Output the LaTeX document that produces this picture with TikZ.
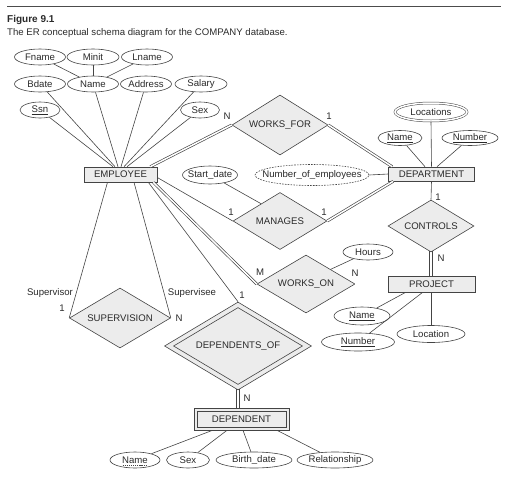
\documentclass[tikz,border=0pt]{standalone}
\usepackage{fontspec}
\setmainfont{Liberation Sans}
\usetikzlibrary{shapes.geometric,calc}
\newcommand\zb[1]{\makebox[0pt]{#1}}
\definecolor{lc}{HTML}{444444}
\definecolor{gfill}{HTML}{ECECEC}
\definecolor{tc}{HTML}{2A2A2A}
\begin{document}
\begin{tikzpicture}[x=1pt,y=-1pt,
  every node/.style={text=tc, font=\fontsize{9.6}{11}\selectfont},
  attr/.style={ellipse, draw=lc, fill=white, inner sep=0pt, line width=0.6pt, minimum height=16pt},
  ent/.style={rectangle, draw=lc, fill=gfill, inner sep=0pt, line width=0.6pt, minimum height=15pt},
  rel/.style={diamond, draw=lc, fill=gfill, inner sep=0pt, line width=0.6pt},
  conn/.style={draw=lc, line width=0.6pt},
  dconn/.style={draw=lc, line width=0.65pt, double=white, double distance=1.5pt},
  lbl/.style={inner sep=0pt}
]
\useasboundingbox (0,0) rectangle (509,488);
\draw[draw=black!70, line width=0.9pt] (7,6) -- (501,6);
\node[anchor=base west, inner sep=0pt, font=\bfseries\fontsize{10}{12}\selectfont] (title) at (7,22.5) {Figure 9.1};
\node[anchor=base west, inner sep=0pt] (cap) at (7,35) {The ER conceptual schema diagram for the COMPANY database.};

% EMPLOYEE attributes
\node[attr, minimum width=51pt] (fname) at (40,57) {\zb{Fname}};
\node[attr, minimum width=52pt] (minit) at (93,57) {\zb{Minit}};
\node[attr, minimum width=51pt] (lname) at (147,57) {\zb{Lname}};
\node[attr, minimum width=51pt] (bdate) at (40,84) {\zb{Bdate}};
\node[attr, minimum width=51pt] (ename) at (93,84) {\zb{Name}};
\node[attr, minimum width=51pt] (addr) at (146,84) {\zb{Address}};
\node[attr, minimum width=52pt] (salary) at (201,84) {\zb{Salary}};
\node[attr, minimum width=40pt] (ssn) at (40,110) {\zb{\underline{Ssn}}};
\node[attr, minimum width=39pt] (sex) at (200,110) {\zb{Sex}};

% entities
\node[ent, minimum width=73pt] (emp) at (120.5,174.5) {\zb{EMPLOYEE}};
\node[ent, minimum width=86pt, minimum height=14pt] (dept) at (431.5,174) {\zb{DEPARTMENT}};
\node[ent, minimum width=87pt, minimum height=16pt] (proj) at (431.5,284) {\zb{PROJECT}};
\node[ent, minimum width=95pt, minimum height=22pt] (dep) at (241.5,419) {};
\node[ent, minimum width=89pt, minimum height=16pt] (depin) at (241.5,419) {\zb{DEPENDENT}};

% relationships
\node[rel, minimum width=96pt, minimum height=60pt] (worksfor) at (280,125) {\zb{WORKS\_FOR}};
\node[rel, minimum width=94pt, minimum height=57pt] (manages) at (280,221) {\zb{MANAGES}};
\node[rel, minimum width=98pt, minimum height=58pt] (workson) at (306,284) {\zb{WORKS\_ON}};
\node[rel, minimum width=86pt, minimum height=52pt] (controls) at (431,226) {\zb{CONTROLS}};
\node[rel, minimum width=101pt, minimum height=60pt] (superv) at (120,318) {\zb{SUPERVISION}};
\node[rel, minimum width=147pt, minimum height=88pt] (depof) at (238,346) {};
\node[rel, minimum width=129pt, minimum height=77pt] (depofin) at (238,346) {\zb{DEPENDENTS\_OF}};

% other attributes
\node[attr, minimum width=72pt, minimum height=18pt, double=white, double distance=1.5pt, line width=0.5pt] (locs) at (431,112) {\zb{Locations}};
\node[attr, minimum width=44pt, minimum height=15pt] (dname) at (400,138) {\zb{\underline{Name}}};
\node[attr, minimum width=56pt, minimum height=15pt] (dnum) at (470,138) {\zb{\underline{Number}}};
\node[attr, minimum width=114pt, minimum height=21pt, dashed, dash pattern=on 1.6pt off 1.2pt] (noe) at (312,175) {\zb{Number\_of\_employees}};
\node[attr, minimum width=55pt, minimum height=18pt] (sdate) at (210,175) {\zb{Start\_date}};
\node[attr, minimum width=50pt, minimum height=16pt] (hours) at (368,252) {\zb{Hours}};
\node[attr, minimum width=56pt, minimum height=18pt] (pname) at (362,316) {\zb{\underline{Name}}};
\node[attr, minimum width=73pt, minimum height=18pt] (pnum) at (358,342) {\zb{\underline{Number}}};
\node[attr, minimum width=68pt, minimum height=17pt] (ploc) at (431,334) {\zb{Location}};
\node[attr, minimum width=50pt, minimum height=16pt] (dpname) at (135,460) {\zb{Name}};
\node[attr, minimum width=43pt, minimum height=16pt] (dpsex) at (188,460) {\zb{Sex}};
\node[attr, minimum width=76pt, minimum height=16pt] (dpbd) at (254,460) {\zb{Birth\_date}};
\node[attr, minimum width=76pt, minimum height=16pt] (dprel) at (335,460) {\zb{Relationship}};
\draw[draw=lc, line width=0.5pt, dash pattern=on 1.2pt off 0.9pt] ($(dpname.center)+(-12.5,5)$) -- ($(dpname.center)+(12.5,5)$);

% connectors: employee attributes
\draw[conn] (fname) -- (ename);
\draw[conn] (minit) -- (ename);
\draw[conn] (lname) -- (ename);
\draw[conn] (ssn) -- ($(emp.north)+(-7.5,0)$);
\draw[conn] (bdate) -- ($(emp.north)+(-5.5,0)$);
\draw[conn] (ename) -- ($(emp.north)+(-2.5,0)$);
\draw[conn] (addr) -- ($(emp.north)+(0.5,0)$);
\draw[conn] (salary) -- ($(emp.north)+(3.5,0)$);
\draw[conn] (sex) -- ($(emp.north)+(6.5,0)$);

% relationships
\draw[dconn] ($(emp.north east)+(-7,0)$) -- (worksfor.west);
\draw[dconn] (worksfor.east) -- ($(dept.north west)+(4,0)$);
\draw[conn] (noe.east) -- (dept.west);
\draw[conn] (dname) -- ($(dept.north)+(-6.5,0)$);
\draw[conn] (dnum) -- ($(dept.north)+(5.5,0)$);
\draw[conn] (locs.south) -- (dept.north);
\draw[conn] (sdate) -- ($(manages.west)!0.6!(manages.north)$);
\draw[conn] ($(emp.east)+(0,3)$) -- (manages.west);
\draw[dconn] (manages.east) -- ($(dept.south west)+(5,0)$);
\draw[dconn] ($(emp.south east)+(-4,0)$) -- (workson.west);
\draw[conn] ($(emp.south east)+(-9,0)$) -- (depof.north);
\draw[conn] (hours) -- ($(workson.north)!0.5!(workson.east)$);
\draw[dconn] (workson.east) -- (proj.west);
\draw[conn] (dept.south) -- (controls.north);
\coordinate (ctrlbot) at ($(controls.center)+(0,26)$);
\coordinate (projtop) at ($(proj.center)+(-0.5,-8)$);
\draw[conn, line width=0.7pt] ($(ctrlbot)+(-1.4,-0.8)$) -- ($(projtop)+(-1.4,0)$);
\draw[conn, line width=0.7pt] ($(ctrlbot)+(1.4,-0.8)$) -- ($(projtop)+(1.4,0)$);
\draw[conn] (pname) -- ($(proj.south west)+(18,0)$);
\draw[conn] (pnum) -- ($(proj.south west)+(35,0)$);
\draw[conn] (ploc.north) -- ($(proj.south)+(-0.5,0)$);
\draw[conn] ($(emp.south)+(-13,0)$) -- (superv.west);
\draw[conn] ($(emp.south)+(13.5,0)$) -- (superv.east);
\coordinate (depofbot) at ($(depof.center)+(0,44)$);
\coordinate (depjoin) at ($(dep.center)+(-3.5,-11)$);
\draw[conn, line width=0.7pt] ($(depofbot)+(-1.4,-0.8)$) -- ($(depjoin)+(-1.4,0)$);
\draw[conn, line width=0.7pt] ($(depofbot)+(1.4,-0.8)$) -- ($(depjoin)+(1.4,0)$);
\draw[conn] (dpname) -- ($(dep.south)+(-29,0)$);
\draw[conn] (dpsex) -- ($(dep.south)+(-14.5,0)$);
\draw[conn] (dpbd) -- ($(dep.south)+(1.5,0)$);
\draw[conn] (dprel) -- ($(dep.south)+(35.5,0)$);

% cardinality labels
\node[lbl] (c1) at (227,116) {N};
\node[lbl] (c2) at (329,116) {1};
\node[lbl] (c3) at (438,197) {1};
\node[lbl] (c4) at (441,258) {N};
\node[lbl] (c5) at (231,212) {1};
\node[lbl] (c6) at (324,212) {1};
\node[lbl] (c7) at (260,272) {M};
\node[lbl] (c8) at (355,273) {N};
\node[lbl] (c9) at (50,293) {Supervisor};
\node[lbl] (c10) at (62,308) {1};
\node[lbl] (c11) at (192,293) {Supervisee};
\node[lbl] (c12) at (179,318) {N};
\node[lbl] (c13) at (242,295) {1};
\node[lbl] (c14) at (247,398) {N};
\end{tikzpicture}
\end{document}
